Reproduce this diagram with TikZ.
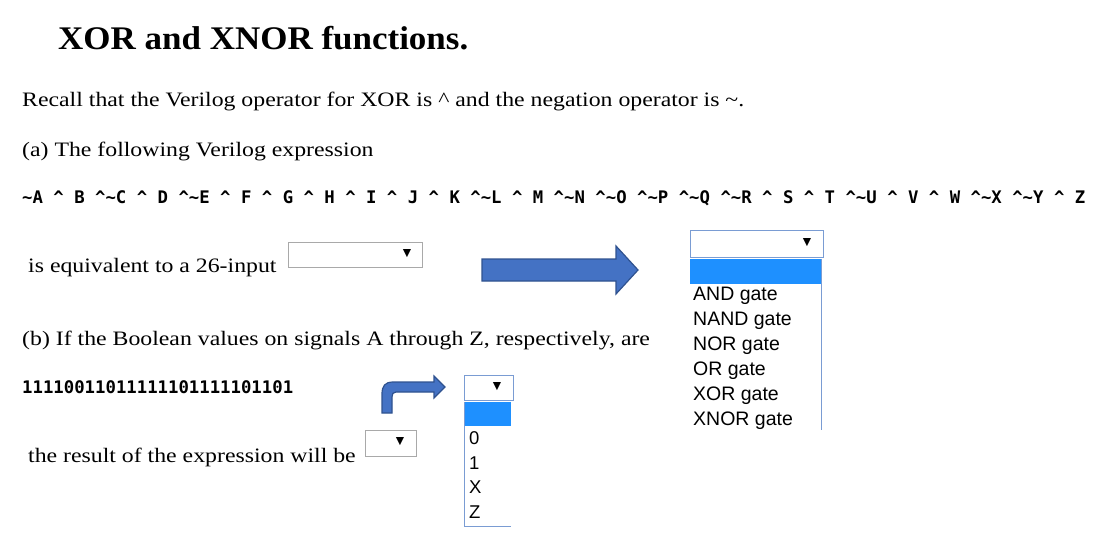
\documentclass[tikz,border=0pt]{standalone}
\usepackage{fontspec}
\setmainfont{Liberation Serif}
\newfontfamily\ssf{Liberation Sans}
\newfontfamily\monof{DejaVu Sans Mono}
\definecolor{arrblue}{HTML}{4472C4}
\definecolor{arredge}{HTML}{2F528F}
\definecolor{selblue}{HTML}{1E90FF}
\definecolor{ddgray}{HTML}{A9A9A9}
\definecolor{lborder}{HTML}{7A9CD3}
\tikzset{
  txt/.style={anchor=west,inner sep=0pt,font=\fontsize{20.5}{22}\selectfont},
  dd/.style={draw=ddgray,line width=1pt,fill=white},
  tri/.style={anchor=center,inner sep=0pt,font=\ssf\fontsize{14}{14}\selectfont},
  item/.style={anchor=west,inner sep=0pt,font=\ssf\fontsize{19.5}{20}\selectfont},
  bigarrow/.style={fill=arrblue,draw=arredge,line width=1.2pt}
}
\begin{document}
\begin{tikzpicture}[x=1pt,y=-1pt]
\useasboundingbox (0,0) rectangle (1115,539);
\node[anchor=west,inner sep=0pt,font=\bfseries\fontsize{33}{34}\selectfont] (title) at (58,38) {\scalebox{1.06}[1]{XOR and XNOR functions.}};
\node[txt] (recall) at (22,101) {\scalebox{1.16}[1]{Recall that the Verilog operator for XOR is \^{} and the negation operator is \textasciitilde.}};
\node[txt] (pa) at (22,151) {\scalebox{1.16}[1]{(a) The following Verilog expression}};
\node[anchor=west,inner sep=0pt] (expr) at (22,198) {\resizebox{1063pt}{!}{\monof\bfseries \textasciitilde A \^{} B \^{}\textasciitilde C \^{} D \^{}\textasciitilde E \^{} F \^{} G \^{} H \^{} I \^{} J \^{} K \^{}\textasciitilde L \^{} M \^{}\textasciitilde N \^{}\textasciitilde O \^{}\textasciitilde P \^{}\textasciitilde Q \^{}\textasciitilde R \^{} S \^{} T \^{}\textasciitilde U \^{} V \^{} W \^{}\textasciitilde X \^{}\textasciitilde Y \^{} Z}};
\node[txt] (equiv) at (28,268) {\scalebox{1.16}[1]{is equivalent to a 26-input}};
% dropdown 1
\draw[dd] (288,242) rectangle (422,267);
\node[tri] (t1) at (407,254) {▼};
% big arrow
\draw[bigarrow] (482,259) -- (616,259) -- (616,246) -- (638,270) -- (616,294) -- (616,281) -- (482,281) -- cycle;
% dropdown 2
\draw[draw=lborder,line width=1pt,fill=white] (690,230) rectangle (823,257);
\node[tri] (t2) at (807,243) {▼};
\fill[selblue] (690,259) rectangle (821,284);
\draw[lborder,line width=1pt] (821,259) -- (821,430);
\foreach \t [count=\i from 0] in {AND gate,NAND gate,NOR gate,OR gate,XOR gate,XNOR gate}
  \node[item] (g\i) at (693,296+25*\i) {\t};
% part b
\node[txt] (pb) at (22,340) {\scalebox{1.16}[1]{(b) If the Boolean values on signals A through Z, respectively, are}};
\node[anchor=west,inner sep=0pt] (bits) at (22,387) {\resizebox{271pt}{!}{\monof\bfseries 11110011011111101111101101}};
% bent arrow
\draw[bigarrow] (382,413) -- (382,394) .. controls (382,386) and (385,382) .. (393,382) -- (434,382) -- (434,376) -- (445,387) -- (434,398) -- (434,392) -- (396,392) .. controls (393,392) and (392,394) .. (392,397) -- (392,413) -- cycle;
% dropdown 3
\draw[draw=lborder,line width=1pt,fill=white] (464,375) rectangle (513,400);
\node[tri] (t3) at (497,387) {▼};
\fill[selblue] (464,402) rectangle (511,426);
\draw[lborder,line width=1pt] (464,402) -- (464,526) -- (511,526);
\foreach \t [count=\i from 0] in {0,1,X,Z}
  \node[item,font=\ssf\fontsize{18.5}{19}\selectfont] (v\i) at (469,438+24.7*\i) {\t};
% result line
\node[txt] (res) at (28,457) {\scalebox{1.16}[1]{the result of the expression will be}};
\draw[dd] (365,430) rectangle (416,456);
\node[tri] (t4) at (400,442) {▼};
\end{tikzpicture}
\end{document}
